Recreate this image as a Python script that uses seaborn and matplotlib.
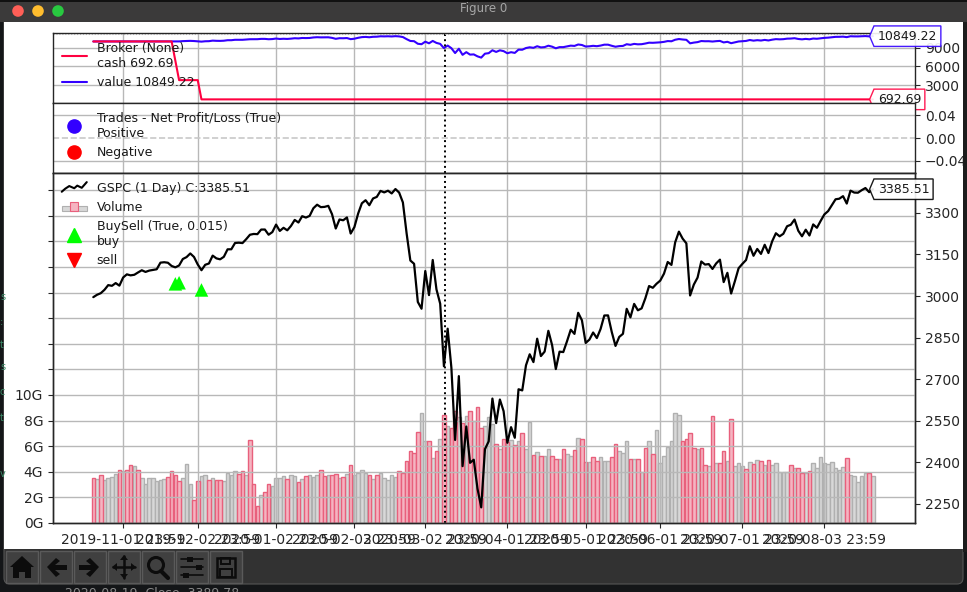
import matplotlib

matplotlib.use("Agg")
import matplotlib.pyplot as plt
import pandas as pd
import seaborn as sns
from matplotlib.legend_handler import HandlerBase
from matplotlib.lines import Line2D
from matplotlib.patches import Circle, FancyBboxPatch, Patch, Polygon, Rectangle
from matplotlib.path import Path

WIDTH, HEIGHT = 967, 592

closes = [
    2995.99, 3004.52, 3010.29, 3022.55, 3039.42, 3036.89, 3046.77, 3037.56, 3066.91, 3078.27,
    3074.62, 3076.78, 3085.18, 3093.08, 3087.01, 3091.84, 3094.04, 3096.63, 3120.46, 3122.03,
    3120.18, 3108.46, 3103.54, 3110.29, 3133.64, 3140.52, 3153.63, 3140.98, 3113.87, 3093.20,
    3112.76, 3117.43, 3145.91, 3135.96, 3132.52, 3141.63, 3168.57, 3168.80, 3191.45, 3192.52,
    3191.14, 3205.37, 3221.22, 3224.01, 3223.38, 3239.91, 3240.02, 3221.29, 3230.78, 3257.85,
    3234.85, 3246.28, 3237.18, 3253.05, 3274.70, 3265.35, 3288.13, 3283.15, 3289.29, 3316.81,
    3329.62, 3320.79, 3321.75, 3325.54, 3295.47, 3243.63, 3276.24, 3273.40, 3283.66, 3225.52,
    3248.92, 3297.59, 3334.69, 3345.78, 3327.71, 3352.09, 3357.75, 3379.45, 3373.94, 3380.16,
    3370.29, 3386.15, 3373.23, 3337.75, 3225.89, 3128.21, 3116.39, 2978.76, 2954.22, 3090.23,
    3003.37, 3130.12, 3023.94, 2972.37, 2746.56, 2882.23, 2741.38, 2480.64, 2711.02, 2386.13,
    2529.19, 2398.10, 2409.39, 2304.92, 2237.40, 2447.33, 2475.56, 2630.07, 2541.47, 2626.65,
    2584.59, 2470.50, 2526.90, 2488.65, 2663.68, 2659.41, 2749.98, 2789.82, 2761.63, 2846.06,
    2783.36, 2799.55, 2874.56, 2823.16, 2736.56, 2799.31, 2797.80, 2836.74, 2878.48, 2863.39,
    2939.51, 2912.43, 2830.71, 2842.74, 2868.44, 2848.42, 2881.19, 2929.80, 2930.19, 2870.12,
    2820.00, 2852.50, 2863.70, 2953.91, 2922.94, 2971.61, 2948.51, 2955.45, 2991.77, 3036.13,
    3029.73, 3044.31, 3055.73, 3080.82, 3122.87, 3112.35, 3193.93, 3232.39, 3207.18, 3190.14,
    3002.10, 3041.31, 3066.59, 3124.74, 3113.49, 3115.34, 3097.74, 3117.86, 3131.29, 3050.33,
    3083.76, 3009.05, 3053.24, 3100.29, 3115.86, 3130.01, 3179.72, 3145.32, 3169.94, 3152.05,
    3185.04, 3155.22, 3197.52, 3226.56, 3215.57, 3224.73, 3251.84, 3257.30, 3276.02, 3235.66,
    3215.63, 3239.41, 3218.44, 3258.44, 3246.22, 3271.12, 3294.61, 3306.51, 3327.77, 3349.16,
    3351.28, 3360.47, 3333.69, 3380.35, 3373.43, 3372.85, 3381.99, 3389.78, 3374.85, 3385.51,
]

# volume in billions
volumes = [
    3.52, 3.44, 3.75, 3.36, 3.52, 3.60, 3.85, 4.14, 4.04, 4.14,
    4.53, 4.45, 4.14, 3.52, 3.05, 3.52, 3.52, 3.28, 3.39, 3.44,
    3.60, 4.06, 3.75, 3.28, 3.52, 4.61, 3.05, 1.80, 3.28, 3.67,
    3.75, 3.36, 3.52, 3.36, 3.36, 3.28, 3.90, 3.75, 4.06, 3.83,
    4.06, 3.75, 6.48, 3.05, 1.33, 2.19, 2.42, 3.05, 2.89, 3.52,
    3.52, 3.67, 3.44, 3.75, 3.67, 3.20, 3.44, 3.67, 3.75, 3.60,
    3.75, 4.14, 3.67, 3.75, 3.75, 3.83, 3.52, 3.60, 3.83, 4.53,
    3.72, 3.93, 4.11, 3.90, 3.72, 3.44, 3.72, 3.93, 3.49, 3.39,
    3.72, 3.60, 4.04, 3.90, 4.82, 5.60, 5.44, 7.08, 8.57, 6.38,
    6.38, 5.05, 5.60, 6.56, 8.41, 7.60, 7.40, 8.78, 8.25, 7.79,
    8.33, 8.72, 8.00, 9.04, 7.40, 7.55, 8.25, 7.71, 6.15, 5.76,
    6.54, 6.35, 6.48, 6.07, 6.38, 7.00, 5.81, 7.86, 5.29, 5.52,
    5.21, 5.21, 5.76, 5.21, 5.03, 5.03, 5.76, 5.36, 5.21, 5.68,
    6.61, 6.54, 4.74, 4.74, 5.13, 4.82, 5.13, 4.82, 4.82, 5.13,
    6.15, 5.60, 5.44, 6.38, 4.97, 4.97, 4.97, 3.96, 5.83, 6.38,
    5.36, 7.24, 4.66, 5.21, 5.96, 6.38, 8.57, 8.41, 6.38, 6.54,
    7.00, 5.83, 5.76, 5.83, 4.50, 4.43, 8.33, 4.66, 4.66, 5.60,
    4.82, 8.10, 4.43, 4.66, 4.43, 4.19, 4.74, 4.58, 4.90, 4.82,
    4.50, 4.90, 4.50, 4.66, 3.96, 3.96, 3.96, 4.50, 4.27, 4.27,
    3.88, 3.88, 4.04, 4.66, 4.27, 5.13, 4.66, 4.58, 4.74, 4.27,
    4.11, 4.35, 5.05, 3.72, 3.65, 3.18, 3.65, 3.88, 3.88, 3.65,
]

# bars drawn pink in the reference
down_bars = [
    0, 2, 7, 9, 10, 12, 20, 21, 22, 23, 27, 28, 31, 33, 34, 39, 40, 42, 43, 44, 46, 47, 52, 55, 57,
    61, 62, 64, 65, 67, 69, 74, 76, 82, 83, 84, 85, 86, 87, 90, 92, 94, 96, 97, 99, 101, 103, 104,
    108, 110, 111, 113, 115, 118, 120, 123, 124, 126, 129, 131, 132, 134, 135, 139, 140, 144, 146,
    148, 150, 158, 159, 160, 161, 163, 164, 166, 168, 169, 171, 175, 177, 179, 181, 187, 189, 190,
    192, 202, 208,
]

cash = [10000.0] * 22 + [6893.0] + [3786.0] * 6 + [692.69] * 181

portfolio = [10000.0] * 22 + [
    9997, 10007, 10053, 10067, 10093, 10068, 10014, 9972,
    10031, 10045, 10131, 10101, 10091, 10118, 10198, 10199, 10267, 10270,
    10266, 10309, 10356, 10365, 10363, 10413, 10413, 10357, 10385, 10466,
    10397, 10432, 10405, 10452, 10517, 10489, 10557, 10542, 10561, 10643,
    10682, 10655, 10658, 10669, 10579, 10424, 10521, 10513, 10544, 10369,
    10440, 10586, 10697, 10730, 10676, 10749, 10766, 10831, 10814, 10833,
    10804, 10851, 10812, 10706, 10371, 10077, 10042, 9629, 9555, 9963,
    9703, 10083, 9765, 9610, 8932, 9339, 8917, 8135, 8826, 7851,
    8280, 7887, 7921, 7608, 7405, 8035, 8119, 8583, 8317, 8573,
    8447, 8105, 8274, 8159, 8684, 8671, 8943, 9063, 8978, 9231,
    9043, 9092, 9317, 9163, 8903, 9091, 9086, 9203, 9328, 9283,
    9512, 9430, 9185, 9221, 9298, 9238, 9336, 9482, 9483, 9303,
    9153, 9250, 9284, 9555, 9462, 9608, 9538, 9559, 9668, 9801,
    9782, 9826, 9860, 9935, 10061, 10030, 10275, 10390, 10314, 10263,
    9699, 9817, 9893, 10067, 10033, 10039, 9986, 10047, 10087, 9844,
    9944, 9720, 9853, 9994, 10041, 10083, 10232, 10129, 10203, 10149,
    10248, 10159, 10286, 10373, 10340, 10367, 10449, 10465, 10521, 10400,
    10340, 10411, 10348, 10468, 10432, 10506, 10577, 10612, 10676, 10740,
    10747, 10774, 10694, 10834, 10813, 10811, 10839, 10862, 10817, 10849.22,
]

buy_bars = [22, 23, 29]
buy_prices = [3044, 3048, 3022]

tick_bars = [8, 28, 49, 70, 89, 111, 132, 152, 174, 196]
tick_dates = [
    "2019-11-01 23:59", "2019-12-02 23:59", "2020-01-02 23:59", "2020-02-03 23:59", "2020-03-02 23:59",
    "2020-04-01 23:59", "2020-05-01 23:59", "2020-06-01 23:59", "2020-07-01 23:59", "2020-08-03 23:59",
]
cursor_bar = 94.4

BLUE = "#3300ff"
RED = "#ff0040"
GRID = "#b8b8b8"
BAR_X0, BAR_PITCH = 93.3, 3.73
LEFT_PX, RIGHT_PX = 53, 915


def axes_rect(top, bottom, left=LEFT_PX, right=RIGHT_PX):
    return [left / WIDTH, 1 - bottom / HEIGHT, (right - left) / WIDTH, (bottom - top) / HEIGHT]


def tag_box(x0, y0, width, height, mutation_size):
    # small price tag with a point on the left
    pad = 0.3 * mutation_size
    x0, y0, x1, y1 = x0 - pad, y0 - pad, x0 + width + pad, y0 + height + pad
    tip = 0.35 * mutation_size
    ym = (y0 + y1) / 2
    return Path(
        [(x0, y0), (x1, y0), (x1, y1), (x0, y1), (x0 - tip, ym), (x0, y0), (x0, y0)],
        [Path.MOVETO] + [Path.LINETO] * 5 + [Path.CLOSEPOLY],
    )


class VolumeHandler(HandlerBase):
    def create_artists(self, legend, orig_handle, xdescent, ydescent, width, height, fontsize, trans):
        grey = Rectangle((0, 0), width, height * 0.55, fc="#d8d8d8", ec="#b0b0b0", lw=0.8, transform=trans)
        pink = Rectangle((width * 0.33, 0), width * 0.33, height * 1.0, fc="#f5b4c1", ec="#e8607c", lw=0.8, transform=trans)
        return [grey, pink]


class PriceHandler(HandlerBase):
    def create_artists(self, legend, orig_handle, xdescent, ydescent, width, height, fontsize, trans):
        xs = [0, 0.14, 0.3, 0.5, 0.62, 0.8, 1.0]
        ys = [0.0, 0.35, 0.65, 0.4, 0.7, 0.45, 1.1]
        line = Line2D([x * width for x in xs], [y * height for y in ys], color="black", lw=1.5, transform=trans)
        return [line]


def style_panel(ax, ticks, labels):
    ax.set_xlim(x_limits)
    ax.set_xticks(tick_bars)
    ax.tick_params(bottom=False, labelbottom=False, left=False, labelleft=False, right=True, labelright=True, labelsize=10)
    ax.set_yticks(ticks)
    ax.set_yticklabels(labels)
    ax.set_xlabel("")
    ax.set_ylabel("")
    ax.grid(True, color=GRID, lw=1.0)
    ax.axvline(cursor_bar, color="black", ls=":", lw=1.4)


def draw_broker(fig, df):
    ax = fig.add_axes(axes_rect(33, 103))
    sns.lineplot(data=df, x="bar", y="value", ax=ax, color=BLUE, lw=1.5, errorbar=None)
    sns.lineplot(data=df, x="bar", y="cash", ax=ax, color=RED, lw=1.5, errorbar=None)
    ax.set_ylim(112, 11358)
    style_panel(ax, [3000, 6000, 9000], ["3000", "6000", "9000"])
    ax.axhline(11200, color="#c0c0c0", ls=":", lw=0.8)
    handles = [
        Line2D([], [], color=RED, lw=1.5, label="Broker (None)\ncash 692.69"),
        Line2D([], [], color=BLUE, lw=1.5, label="value 10849.22"),
    ]
    ax.legend(handles=handles, loc="upper left", frameon=False, fontsize=9, borderaxespad=0.3)
    add_tag(ax, 10849.22, "10849.22", BLUE)
    add_tag(ax, 692.69, "692.69", RED)


def draw_trades(fig):
    ax = fig.add_axes(axes_rect(103, 173))
    ax.set_ylim(-0.0609, 0.0609)
    style_panel(ax, [-0.04, 0.0, 0.04], ["\u22120.04", "0.00", "0.04"])
    ax.yaxis.get_gridlines()[1].set_visible(False)
    ax.axhline(0, color="#c8c8c8", ls="--", lw=1.2)
    handles = [
        Line2D([], [], color=BLUE, ls="", marker="o", ms=9.5, label="Trades - Net Profit/Loss (True)\nPositive"),
        Line2D([], [], color="red", ls="", marker="o", ms=9.5, label="Negative"),
    ]
    ax.legend(handles=handles, loc="upper left", frameon=False, fontsize=9, numpoints=1, borderaxespad=0.3)


def draw_price(fig, df):
    ax = fig.add_axes(axes_rect(173, 523))
    sns.barplot(
        data=df[~df["down"]], x="bar", y="volume", native_scale=True, ax=ax, color="#d8d8d8", saturation=1,
        edgecolor="#b0b0b0", linewidth=1.0, width=0.95, errorbar=None,
    )
    sns.barplot(
        data=df[df["down"]], x="bar", y="volume", native_scale=True, ax=ax, color="#f5b4c1", saturation=1,
        edgecolor="#e8607c", linewidth=1.0, width=0.95, errorbar=None,
    )
    ax.set_xlim(x_limits)
    ax.set_ylim(0, 27.34)
    ax.set_xticks(tick_bars)
    ax.set_xticklabels(tick_dates)
    volume_ticks = list(range(0, 28, 2))
    ax.set_yticks(volume_ticks)
    ax.set_yticklabels([f"{v}G" if v <= 10 else "" for v in volume_ticks])
    ax.set_xlabel("")
    ax.set_ylabel("")
    ax.tick_params(left=True, bottom=True, labelsize=10)
    ax.set_axisbelow(False)
    ax.grid(True, color=GRID, lw=1.0)
    ax.axvline(cursor_bar, color="black", ls=":", lw=1.4)

    twin = ax.twinx()
    sns.lineplot(data=df, x="bar", y="close", ax=twin, color="black", lw=1.6, errorbar=None)
    buys = pd.DataFrame({"bar": buy_bars, "price": buy_prices})
    sns.scatterplot(data=buys, x="bar", y="price", ax=twin, marker="^", s=95, color="#00ff00", edgecolor="none", zorder=5)
    twin.set_xlim(x_limits)
    twin.set_ylim(2181, 3444)
    price_ticks = [2250, 2400, 2550, 2700, 2850, 3000, 3150, 3300]
    twin.set_yticks(price_ticks)
    twin.set_yticklabels([str(p) for p in price_ticks])
    twin.set_xlabel("")
    twin.set_ylabel("")
    twin.grid(False)
    twin.tick_params(right=True, labelsize=10)

    price_handle = Line2D([], [], color="black")
    volume_handle = Patch()
    handles = [
        price_handle,
        volume_handle,
        Line2D([], [], color="#00ff00", ls="", marker="^", ms=9.5),
        Line2D([], [], color="red", ls="", marker="v", ms=9.5),
    ]
    labels = ["GSPC (1 Day) C:3385.51", "Volume", "BuySell (True, 0.015)\nbuy", "sell"]
    twin.legend(
        handles, labels, loc="upper left", frameon=False, fontsize=9, borderaxespad=0.3,
        handler_map={price_handle: PriceHandler(), volume_handle: VolumeHandler()},
    )
    add_tag(twin, 3385.51, "3385.51", "black")


def add_tag(ax, y, text, color):
    ax.annotate(
        text, xy=(len(closes) - 1, y), xytext=(3.5, 0), textcoords="offset points", va="center", ha="left",
        fontsize=9, annotation_clip=False, zorder=10,
        bbox=dict(boxstyle=tag_box, fc="white", ec=color, lw=1.0, alpha=0.9),
    )


def draw_window(fig):
    # everything around the plot: window frame, title bar, toolbar, terminal behind it
    back = fig.add_axes([0, 0, 1, 1], zorder=-1)
    back.set_xlim(0, WIDTH)
    back.set_ylim(HEIGHT, 0)
    back.axis("off")
    back.add_patch(Rectangle((0, 0), WIDTH, HEIGHT, fc="#141618", ec="none"))
    back.add_patch(FancyBboxPatch((8, 10), WIDTH - 16, 570, boxstyle="round,pad=4,rounding_size=6", fc="#323232", ec="#555555", lw=0.8))
    back.add_patch(Rectangle((4, 22), 959, 527, fc="white", ec="none"))
    back.add_patch(Rectangle((0, 0), WIDTH, 22, fc="#3b3a3a", ec="none"))
    back.add_patch(Rectangle((0, 0), WIDTH, 1.5, fc="#111111", ec="none"))
    for cx, color in zip([18, 38, 58], ["#ff5f57", "#ffbd2e", "#28c940"]):
        back.add_patch(Circle((cx, 11), 5.8, fc=color, ec="none"))
    back.text(483.5, 8.5, "Figure 0", color="#a6a6a6", fontsize=8.5, ha="center", va="center")

    # bits of the terminal that show around the window
    for y, text in zip([297, 322, 345, 367, 392, 418, 474], ["s", ":", "t", "s", "c", "t", "v"]):
        back.text(0, y, text, color="#3d8a68", fontsize=7, ha="left", va="center")
    back.text(65, 594, "2020-08-19, Close, 3389.78", color="#8a8a8a", fontsize=9, ha="left", va="center")

    for i in range(7):
        back.add_patch(Rectangle((6 + i * 34.05, 551), 32, 32, fc="#404040", ec="#5a5a5a", lw=1.0))
    draw_icons(back)

    # window edge sits over the clipped tick label
    front = fig.add_axes([0, 0, 1, 1], zorder=10)
    front.set_xlim(0, WIDTH)
    front.set_ylim(HEIGHT, 0)
    front.axis("off")
    front.patch.set_visible(False)
    front.add_patch(Rectangle((963, 22), 4, 530, fc="#1c1c1c", ec="none"))


def draw_icons(ax):
    ink = "#0c0c0c"
    # home
    ax.add_patch(Polygon([(22, 556), (34, 567), (31, 567), (31, 578), (25, 578), (25, 572), (19, 572), (19, 578), (13, 578), (13, 567), (10, 567)], fc=ink, ec="none"))
    # back / forward
    ax.add_patch(Polygon([(47, 567), (56, 558), (60, 561), (55, 565), (67, 565), (67, 570), (55, 570), (60, 574), (56, 577)], fc=ink, ec="none"))
    ax.add_patch(Polygon([(99, 567), (90, 558), (86, 561), (91, 565), (79, 565), (79, 570), (91, 570), (86, 574), (90, 577)], fc=ink, ec="none"))
    # pan
    ax.plot([113, 135], [567, 567], color=ink, lw=1.8)
    ax.plot([124, 124], [556, 578], color=ink, lw=1.8)
    ax.add_patch(Polygon([(124, 555), (120, 560), (128, 560)], fc=ink, ec="none"))
    ax.add_patch(Polygon([(124, 579), (120, 574), (128, 574)], fc=ink, ec="none"))
    ax.add_patch(Polygon([(112, 567), (117, 563), (117, 571)], fc=ink, ec="none"))
    ax.add_patch(Polygon([(136, 567), (131, 563), (131, 571)], fc=ink, ec="none"))
    # zoom
    ax.add_patch(Circle((156, 565), 7.5, fc="none", ec=ink, lw=2.2))
    ax.plot([161, 168], [571, 578], color=ink, lw=3)
    # sliders
    for y, x in zip([559, 567, 575], [187, 196, 183]):
        ax.plot([181, 203], [y, y], color=ink, lw=1.2)
        ax.add_patch(Rectangle((x, y - 2.5), 6, 5, fc=ink, ec="none"))
    # save
    ax.add_patch(Rectangle((217, 558), 18, 19, fc="none", ec=ink, lw=1.8))
    ax.add_patch(Rectangle((221, 558), 9, 6, fc="none", ec=ink, lw=1.4))
    ax.add_patch(Rectangle((220, 569), 12, 8, fc="none", ec=ink, lw=1.4))


def main():
    sns.set_theme(style="ticks", rc={"axes.linewidth": 1.0, "xtick.major.size": 3.5, "ytick.major.size": 3.5, "xtick.major.width": 0.8, "ytick.major.width": 0.8})
    plt.rcParams["font.family"] = ["DejaVu Sans"]
    plt.rcParams["text.color"] = "#1a1a1a"

    df = pd.DataFrame({"bar": range(len(closes)), "close": closes, "volume": volumes, "cash": cash, "value": portfolio})
    df["down"] = df["bar"].isin(down_bars)

    fig = plt.figure(figsize=(WIDTH / 100, HEIGHT / 100), dpi=100)
    draw_window(fig)
    draw_broker(fig, df)
    draw_trades(fig)
    draw_price(fig, df)
    fig.savefig("out.png", dpi=100)
    plt.close(fig)


x_limits = ((LEFT_PX - BAR_X0) / BAR_PITCH, (RIGHT_PX - BAR_X0) / BAR_PITCH)

if __name__ == "__main__":
    main()
